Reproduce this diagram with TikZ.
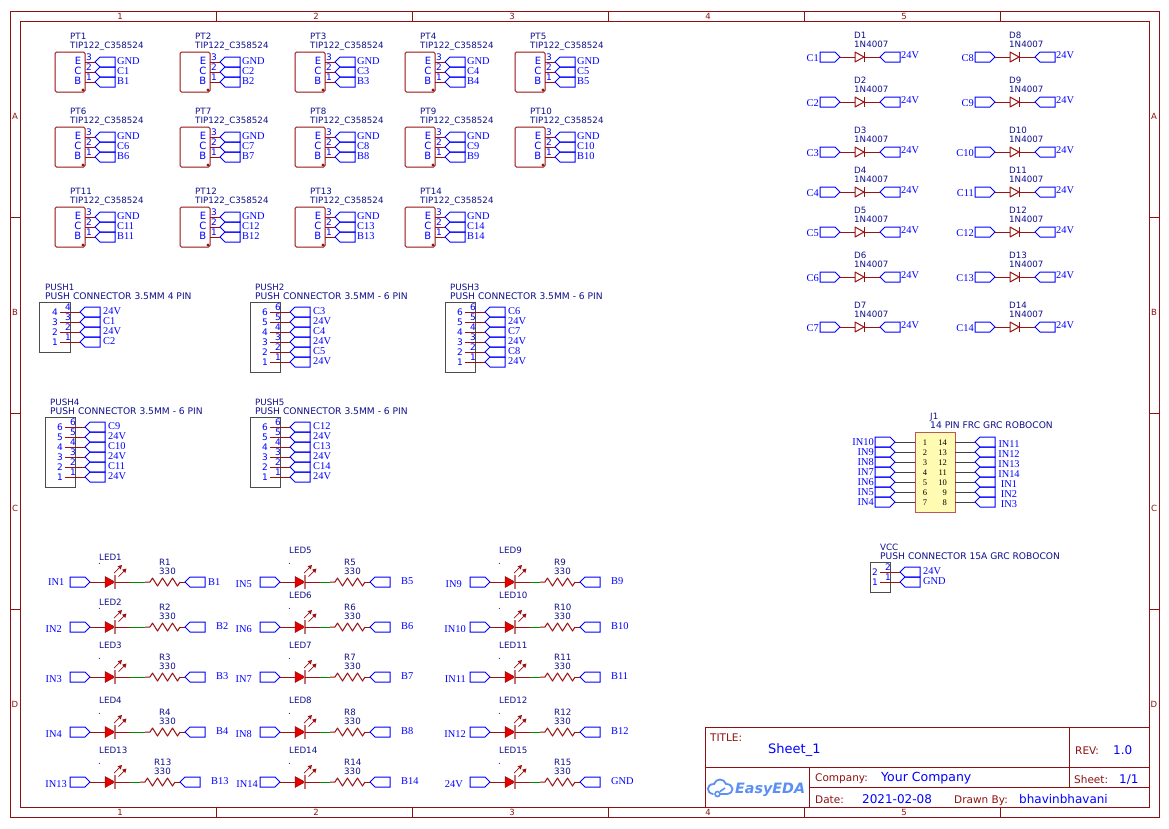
\documentclass[tikz,border=0pt]{standalone}
\usepackage{fontspec}
\setmainfont{Liberation Serif}
\setsansfont{DejaVu Sans}
\usetikzlibrary{shapes.symbols}
\definecolor{framered}{HTML}{8E1010}
\definecolor{wirered}{HTML}{991111}
\definecolor{partblue}{HTML}{0F0F8C}
\definecolor{logoblue}{HTML}{5B8FF2}
\tikzset{
  wire/.style={draw=wirered, line width=1pt},
  graywire/.style={draw=black!75, line width=1pt},
  greenwire/.style={draw=green!55!black, line width=1pt},
  framebox/.style={draw=framered, line width=.8pt},
  flagleft/.style={shape=signal, signal to=west, signal pointer angle=90, draw=blue, line width=1pt,
    minimum width=20pt, minimum height=10pt, inner sep=0pt, outer sep=0pt, anchor=west},
  flagright/.style={flagleft, signal to=east, anchor=east},
  partbox/.style={draw=wirered, line width=1pt, rounded corners=1.5pt, minimum width=30pt, minimum height=40pt,
    inner sep=0pt, outer sep=0pt},
  connbox/.style={draw=black!70, line width=1pt, anchor=north east, inner sep=0pt, outer sep=0pt},
  headerbox/.style={draw=wirered!70, fill=yellow!30!white, line width=1pt, minimum width=40pt, minimum height=80pt,
    inner sep=0pt, outer sep=0pt},
  nettext/.style={font=\fontsize{10.4}{10}\selectfont, text=blue, inner sep=0pt, yshift=-1pt},
  parttext/.style={font=\sffamily\fontsize{8.7}{9}\selectfont, text=partblue, inner sep=0pt, anchor=mid west, yshift=-1pt},
  longtext/.style={parttext, font=\sffamily\fontsize{9.15}{9}\selectfont},
  pintext/.style={font=\sffamily\fontsize{9}{9}\selectfont, text=blue, inner sep=0pt},
  hdrtext/.style={font=\fontsize{8.5}{9}\selectfont, text=black, inner sep=0pt},
  bordertext/.style={font=\sffamily\fontsize{8.5}{9}\selectfont, text=framered, inner sep=0pt},
  titlelabel/.style={font=\sffamily\fontsize{10.5}{11}\selectfont, text=framered, inner sep=0pt, anchor=mid west, yshift=-2.5pt},
  titleval/.style={font=\sffamily\fontsize{12}{12}\selectfont, text=blue, inner sep=0pt, anchor=mid west, yshift=-2.5pt},
}
% pins and flags of a connector: name, right edge, top, box width, nets
\newcommand{\pushconn}[5]{
  \foreach \net [count=\i] in {#5} {\xdef\pincount{\i}}
  \node[connbox, minimum width=#4, minimum height=10*\pincount+10] (#1) at (#2,#3) {};
  \foreach \net [count=\i] in {#5} {
    \pgfmathtruncatemacro{\pin}{\pincount+1-\i}
    \coordinate (#1-p\i) at (#2-10,#3+10*\i);
    \node[flagleft] (#1-f\i) at (#2+10,#3+10*\i) {};
    \draw[wire] (#1-p\i) -- (#1-f\i.west);
    \node[pintext] (#1-a\i) at (#2-15,#3+10*\i) {\pin};
    \node[pintext] (#1-b\i) at (#2-2,#3+10*\i-5) {\pin};
    \node[nettext, anchor=mid west] (#1-n\i) at (#2+33,#3+10*\i-.5) {\net};
  }
}
\begin{document}
\begin{tikzpicture}[x=1pt,y=-1pt]
  \useasboundingbox (0,0) rectangle (1169,828);
  % sheet frame
  \draw[framebox] (10,11) rectangle (1159,817);
  \draw[framebox] (20,21) rectangle (1149,807);
  \foreach \x in {216,412,608,804,1000} {
    \draw[framebox] (\x,11) -- (\x,21);
    \draw[framebox] (\x,807) -- (\x,817);
  }
  \foreach \y in {217,413,609} {
    \draw[framebox] (10,\y) -- (20,\y);
    \draw[framebox] (1149,\y) -- (1159,\y);
  }
  \foreach \t/\x in {1/120,2/316,3/512,4/708,5/904} {
    \node[bordertext] (top\t) at (\x,16) {\t};
    \node[bordertext] (bot\t) at (\x,812) {\t};
  }
  \foreach \t/\y in {A/116,B/312,C/508,D/704} {
    \node[bordertext] (lft\t) at (15,\y) {\t};
    \node[bordertext] (rgt\t) at (1154,\y) {\t};
  }

  % transistors
  \foreach \n/\x/\y in {1/55/52,2/180/52,3/295/52,4/405/52,5/515/52,
      6/55/127,7/180/127,8/295/127,9/405/127,10/515/127,
      11/55/207,12/180/207,13/295/207,14/405/207} {
    \node[partbox] (PT\n) at (\x+15,\y+20) {};
    \fill[wirered] (\x+28,\y+38) circle (1.6);
    \node[parttext] (PT\n-name) at (\x+15,\y-15.5) {PT\n};
    \node[parttext] (PT\n-part) at (\x+15,\y-6.5) {TIP122\_C358524};
    \foreach \p/\e/\h/\net in {3/E/10/GND,2/C/20/C\n,1/B/30/B\n} {
      \node[flagleft] (PT\n-f\p) at (\x+40,\y+\h) {};
      \draw[wire] (PT\n-f\p.west -| PT\n.east) -- (PT\n-f\p.west);
      \node[pintext, font=\sffamily\fontsize{10}{10}\selectfont, anchor=mid east] (PT\n-e\p) at (\x+26.5,\y+\h+.5) {\e};
      \node[pintext] (PT\n-b\p) at (\x+34,\y+\h-5) {\p};
      \node[nettext, anchor=mid west] (PT\n-n\p) at (\x+62,\y+\h-.5) {\net};
    }
  }

  % push connectors
  \pushconn{PUSH1}{70}{302}{31}{24V,C1,24V,C2}
  \pushconn{PUSH2}{280}{302}{30}{C3,24V,C4,24V,C5,24V}
  \pushconn{PUSH3}{475}{302}{30}{C6,24V,C7,24V,C8,24V}
  \pushconn{PUSH4}{75}{417}{30}{C9,24V,C10,24V,C11,24V}
  \pushconn{PUSH5}{280}{417}{30}{C12,24V,C13,24V,C14,24V}
  \pushconn{VCC}{890}{562}{20}{24V,GND}
  \foreach \t/\x/\y/\s in {PUSH1/45/287/PUSH CONNECTOR 3.5MM 4 PIN,PUSH2/255/287/PUSH CONNECTOR 3.5MM - 6 PIN,
      PUSH3/450/287/PUSH CONNECTOR 3.5MM - 6 PIN,PUSH4/50/402/PUSH CONNECTOR 3.5MM - 6 PIN,
      PUSH5/255/402/PUSH CONNECTOR 3.5MM - 6 PIN,VCC/880/547/PUSH CONNECTOR 15A GRC ROBOCON} {
    \node[parttext] (\t-name) at (\x,\y) {\t};
    \node[longtext] (\t-part) at (\x,\y+9) {\s};
  }

  % diodes
  \foreach \n/\x/\y in {1/820/57,2/820/102,3/820/152,4/820/192,5/820/232,6/820/277,7/820/327,
      8/975/57,9/975/102,10/975/152,11/975/192,12/975/232,13/975/277,14/975/327} {
    \node[flagright] (D\n-fa) at (\x+20,\y) {};
    \node[flagleft] (D\n-fk) at (\x+60,\y) {};
    \coordinate (D\n-a) at (\x+35,\y);
    \coordinate (D\n-k) at (\x+44,\y);
    \draw[wire] (D\n-fa.east) -- (D\n-a);
    \draw[wire] (D\n-k) -- (D\n-fk.west);
    \draw[wire, line join=round] (D\n-a) -- ++(0,-5) -- (D\n-k) -- (\x+35,\y+5) -- cycle;
    \draw[wire] (\x+44,\y-5) -- (\x+44,\y+5);
    \node[nettext, anchor=mid east] (D\n-nl) at (\x-1,\y+1.5) {C\n};
    \node[nettext, anchor=mid west] (D\n-nr) at (\x+81,\y-1.5) {24V};
    \node[parttext] (D\n-name) at (\x+34,\y-21.5) {D\n};
    \node[parttext] (D\n-part) at (\x+34,\y-12.5) {1N4007};
  }

  % header
  \node[headerbox] (J1) at (935,472.5) {};
  \node[parttext] (J1-name) at (930,416) {J1};
  \node[longtext] (J1-part) at (930,425.5) {14 PIN FRC GRC ROBOCON};
  \foreach \lnet/\a/\b/\rnet [count=\i] in {IN10/1/14/IN11,IN9/2/13/IN12,IN8/3/12/IN13,IN7/4/11/IN14,
      IN6/5/10/IN1,IN5/6/9/IN2,IN4/7/8/IN3} {
    \node[flagright] (J1-l\i) at (895,432+10*\i) {};
    \node[flagleft] (J1-r\i) at (975,432+10*\i) {};
    \draw[graywire] (J1-l\i.east) -- (J1-l\i.east -| J1.west);
    \draw[graywire] (J1-r\i.west -| J1.east) -- (J1-r\i.west);
    \node[hdrtext] (J1-a\i) at (925,433+10*\i) {\a};
    \node[hdrtext, anchor=mid east] (J1-b\i) at (947,433+10*\i) {\b};
    \node[nettext, anchor=mid east] (J1-nl\i) at (874,432+10*\i) {\lnet};
    \node[nettext] (J1-nr\i) at (1009,433+10*\i) {\rnet};
  }

  % leds and resistors
  \foreach \n/\r/\x/\y/\ly/\rs/\lnet/\lpos/\rnet/\rpos in {
      1/1/70/582/557/0/IN1/{64.5,582}/B1/{208,582},
      2/2/70/627/602/0/IN2/{62,629}/B2/{216,626},
      3/3/70/677/645/0/IN3/{62,679}/B3/{216,676},
      4/4/70/732/700/0/IN4/{62,734}/B4/{216,731},
      13/13/70/782/750/-5/IN13/{67,784}/B13/{211,781},
      5/5/260/582/550/-5/IN5/{252,584}/B5/{401,581},
      6/6/260/627/595/-5/IN6/{252,629}/B6/{401,626},
      7/7/260/677/645/-5/IN7/{252,679}/B7/{401,676},
      8/8/260/732/700/-5/IN8/{252,734}/B8/{401,731},
      14/14/260/782/750/-5/IN14/{258,784}/B14/{401,781},
      9/9/470/582/550/-5/IN9/{462,584}/B9/{611,581},
      10/10/470/627/595/-5/IN10/{466,629}/B10/{611,626},
      11/11/470/677/645/-5/IN11/{466,679}/B11/{611,676},
      12/12/470/732/700/-5/IN12/{466,734}/B12/{611,731},
      15/15/470/782/750/-5/24V/{463,784}/GND/{611,781}} {
    \node[flagright] (LED\n-fl) at (\x+20,\y) {};
    \node[flagleft] (LED\n-fr) at (\x+115+\rs,\y) {};
    \coordinate (LED\n-a) at (\x+35,\y);
    \coordinate (LED\n-k) at (\x+45,\y);
    \coordinate (LED\n-o) at (\x+60,\y);
    \coordinate (R\r-a) at (\x+75+\rs,\y);
    \coordinate (R\r-b) at (\x+80+\rs,\y);
    \coordinate (R\r-c) at (\x+110+\rs,\y);
    \draw[wire] (LED\n-fl.east) -- (LED\n-a);
    \fill[red!90!black, draw=wirered, line width=.5pt] (LED\n-a) -- ++(0,-5.5) -- (LED\n-k) -- (\x+35,\y+5.5) -- cycle;
    \draw[wirered!60, line width=1.2pt] (\x+45,\y-7) -- (\x+45,\y+7);
    \draw[wire] (LED\n-k) -- (LED\n-o);
    \draw[greenwire] (LED\n-o) -- (R\r-a);
    \foreach \dx/\dy in {44/-9,48.5/-5.5} {
      \draw[wirered, line width=.7pt] (\x+\dx,\y+\dy) -- ++(6,-6);
      \fill[wirered] (\x+\dx+8,\y+\dy-8) -- ++(-4.5,1.2) -- ++(3.3,3.3) -- cycle;
    }
    \draw[wire, line join=round] (R\r-a) -- (R\r-b) -- ++(2.5,-4) -- ++(5,8) -- ++(5,-8) -- ++(5,8) -- ++(5,-8) -- ++(5,8) -- (R\r-c);
    \draw[wire] (R\r-c) -- (LED\n-fr.west);
    \node[parttext] (LED\n-name) at (\x+29,\ly) {LED\n};
    \node[parttext, anchor=base west] (LED\n-val) at (\x+28,\y-18.5) {.};
    \node[parttext] (R\r-name) at (\x+89+\rs,\y-20) {R\r};
    \node[parttext] (R\r-val) at (\x+89+\rs,\y-11) {330};
    \node[nettext, anchor=mid east] (LED\n-nl) at (\lpos) {\lnet};
    \node[nettext, anchor=mid west] (LED\n-nr) at (\rpos) {\rnet};
  }

  % title block
  \draw[framebox] (705,727) rectangle (1149,807);
  \draw[framebox] (705,767) -- (1149,767);
  \draw[framebox] (1069,727) -- (1069,787);
  \draw[framebox] (809,767) -- (809,807);
  \draw[framebox] (809,787) -- (1149,787);
  \node[titlelabel] (title) at (710,736.5) {TITLE:};
  \node[titleval, font=\sffamily\fontsize{13}{13}\selectfont] (sheetname) at (768,748.5) {Sheet\_1};
  \node[titlelabel] (rev) at (1075,750) {REV:};
  \node[titleval] (revval) at (1113,749.5) {1.0};
  \node[titlelabel] (company) at (815,777) {Company:};
  \node[titleval, font=\sffamily\fontsize{12.5}{13}\selectfont] (companyval) at (881,776.5) {Your Company};
  \node[titlelabel] (sheet) at (1074,778.5) {Sheet:};
  \node[titleval] (sheetval) at (1119,778.5) {1/1};
  \node[titlelabel] (date) at (815,799) {Date:};
  \node[titleval] (dateval) at (862,799) {2021-02-08};
  \node[titlelabel] (drawn) at (954,799) {Drawn By:};
  \node[titleval] (drawnval) at (1019,798.5) {bhavinbhavani};
  % logo
  \draw[logoblue, line width=1.8pt, line cap=round] (713,794) .. controls (706,793) and (706,784) .. (714,784)
    .. controls (716,778) and (724,778) .. (726,784) .. controls (734,784) and (735,793) .. (727,794) -- (721,794);
  \draw[logoblue, line width=1.6pt] (717.5,794) circle (2.5);
  \draw[logoblue, line width=1.6pt] (720,791.5) -- (725,788);
  \node[inner sep=0pt, anchor=mid west, text=logoblue, yshift=-1pt, font=\sffamily\bfseries\itshape\fontsize{14.3}{15}\selectfont] (logo) at (735,790) {EasyEDA};
\end{tikzpicture}
\end{document}
